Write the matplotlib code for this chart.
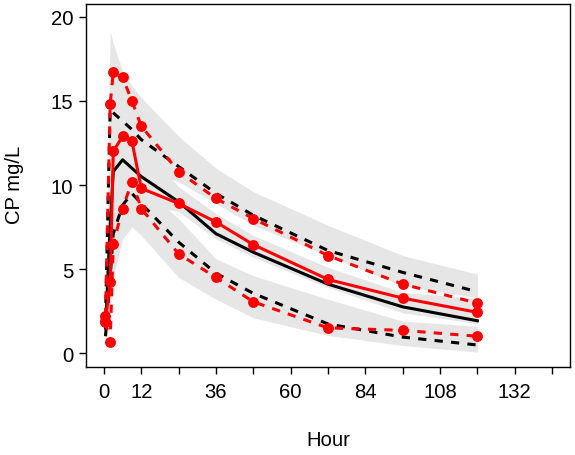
import numpy as np
import matplotlib
matplotlib.use('Agg')
from matplotlib import pyplot as plt

plt.rcParams['font.family'] = ['Liberation Sans', 'DejaVu Sans']

# time points (hours)
hours = [0.5, 2, 3, 6, 9, 12, 24, 36, 48, 72, 96, 120]

# observed percentiles (red)
obs_hi = [2.2, 14.8, 16.7, 16.4, 15.0, 13.5, 10.8, 9.2, 8.0, 5.8, 4.1, 2.97]
obs_med = [1.9, 4.2, 12.0, 12.9, 12.6, 9.8, 8.9, 7.8, 6.45, 4.38, 3.27, 2.42]
obs_lo = [1.86, 0.67, 6.5, 8.6, 10.2, 8.6, 5.9, 4.5, 3.05, 1.5, 1.35, 1.0]

# simulated percentiles (black)
sim_hi = [2.0, 14.5, 14.3, 13.8, 13.3, 12.7, 11.1, 9.5, 8.2, 6.1, 4.8, 3.65]
sim_med = [1.5, 7.5, 10.8, 11.5, 11.0, 10.5, 9.0, 7.1, 6.0, 4.1, 2.75, 1.92]
sim_lo = [1.0, 4.5, 7.1, 8.8, 9.5, 8.9, 6.6, 4.75, 3.55, 1.73, 0.95, 0.48]

# confidence bands of the simulated percentiles (grey)
hi_top = [3.0, 19.2, 18.4, 16.8, 15.9, 15.2, 12.9, 11.0, 9.6, 7.6, 5.8, 4.7]
hi_bot = [1.5, 11.0, 12.0, 12.0, 11.5, 11.0, 10.2, 8.9, 7.6, 5.8, 4.0, 3.3]
med_top = [2.0, 9.5, 12.8, 13.2, 12.8, 12.3, 9.9, 8.3, 7.0, 5.1, 3.6, 3.25]
med_bot = [1.0, 5.0, 7.8, 9.0, 9.0, 9.0, 8.4, 6.8, 5.7, 3.9, 2.4, 1.75]
lo_top = [1.2, 6.0, 8.2, 9.8, 10.5, 10.0, 8.0, 5.6, 4.6, 3.2, 1.9, 1.6]
lo_bot = [0.2, 2.5, 4.5, 6.8, 7.5, 7.0, 4.5, 3.2, 2.1, 1.05, 0.45, 0.06]

x_ticks = np.arange(0, 145, 12)
x_labels = ['0', '12', '', '36', '', '60', '', '84', '', '108', '', '132', '']
y_ticks = [0, 5, 10, 15, 20]

fig = plt.figure(figsize=(5.75, 4.56), dpi=100)
ax = fig.add_axes([86 / 575, 1 - 367.5 / 456, 484 / 575, 363 / 456])

band_col = '#E6E6E6'
ax.fill_between(hours, hi_bot, hi_top, color=band_col, lw=0)
ax.fill_between(hours, med_bot, med_top, color=band_col, lw=0)
ax.fill_between(hours, lo_bot, lo_top, color=band_col, lw=0)

dash = (0, (2.7, 2.7))
ax.plot(hours, sim_hi, color='black', lw=2.2, ls=dash)
ax.plot(hours, sim_lo, color='black', lw=2.2, ls=dash)
ax.plot(hours, sim_med, color='black', lw=2.2)

ax.plot(hours, obs_hi, color='red', lw=2.2, ls=dash, marker='o', ms=6.8)
ax.plot(hours, obs_lo, color='red', lw=2.2, ls=dash, marker='o', ms=6.8)
ax.plot(hours, obs_med, color='red', lw=2.2, marker='o', ms=6.8)

ax.set_xlim(-5.76, 149.76)
ax.set_ylim(-0.8, 20.8)
ax.set_xticks(x_ticks)
ax.set_xticklabels(x_labels)
ax.set_yticks(y_ticks)
ax.tick_params(axis='both', direction='out', length=5, width=1, labelsize=14.6)
ax.tick_params(axis='x', pad=6)
ax.tick_params(axis='y', pad=4)
for s in ax.spines.values():
	s.set_linewidth(1)

fig.text(328 / 575, 1 - 440.5 / 456, 'Hour', ha='center', va='center', fontsize=14.6)
fig.text(14.5 / 575, 1 - 185 / 456, 'CP mg/L', ha='center', va='center', rotation=90, fontsize=14.6)

fig.savefig('out.png', dpi=100)
